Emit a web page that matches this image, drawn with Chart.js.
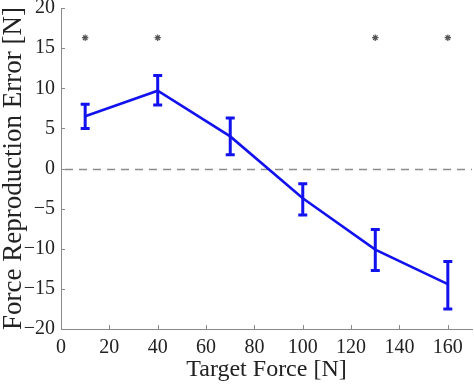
<!DOCTYPE html>
<html>
<head>
<meta charset="utf-8">
<script src="https://cdn.jsdelivr.net/npm/chart.js@4"></script>
<style>
html,body{margin:0;padding:0;background:#fff;}
#wrap{width:474px;height:386px;}
</style>
</head>
<body>
<div id="wrap"><canvas id="c" width="474" height="386"></canvas></div>
<script>
const targetForce = [10, 40, 70, 100, 130, 160];
const meanError   = [6.5, 9.7, 4.0, -3.7, -10.1, -14.4];
const errLow      = [5.0, 7.9, 1.7, -5.8, -12.7, -17.5];
const errHigh     = [8.0, 11.6, 6.3, -1.9, -7.6, -11.6];
const sigForces   = [10, 40, 130, 160];
const sigLevel    = [16.3, 16.3, 16.3, 16.3];
const xTicks = [0, 20, 40, 60, 80, 100, 120, 140, 160];
const yTicks = [-20, -15, -10, -5, 0, 5, 10, 15, 20];

const lineColor = '#1212ee';
const axisColor = '#8a8a8a';

const fmt = v => (v < 0 ? '\u2212' + Math.abs(v) : String(v));

const extras = {
  id: 'extras',
  beforeDatasetsDraw(chart) {
    const {ctx, chartArea, scales: {x, y}} = chart;
    ctx.save();
    ctx.strokeStyle = '#8c8c8c';
    ctx.lineWidth = 1.5;
    ctx.setLineDash([8, 6]);
    const y0 = Math.round(y.getPixelForValue(0)) + 0.5;
    ctx.beginPath();
    ctx.moveTo(chartArea.left + 4, y0);
    ctx.lineTo(chartArea.right, y0);
    ctx.stroke();
    ctx.setLineDash([]);
    ctx.strokeStyle = axisColor;
    ctx.lineWidth = 1;
    yTicks.forEach(v => {
      const py = Math.round(y.getPixelForValue(v)) + 0.5;
      ctx.beginPath();
      ctx.moveTo(chartArea.left, py);
      ctx.lineTo(chartArea.left + 4, py);
      ctx.stroke();
    });
    xTicks.forEach(v => {
      const px = Math.round(x.getPixelForValue(v)) + 0.5;
      ctx.beginPath();
      ctx.moveTo(px, chartArea.bottom);
      ctx.lineTo(px, chartArea.bottom - 4);
      ctx.stroke();
    });
    ctx.restore();
  },
  afterDatasetsDraw(chart) {
    const {ctx, scales: {x, y}} = chart;
    ctx.save();
    ctx.strokeStyle = lineColor;
    ctx.lineWidth = 3;
    targetForce.forEach((f, i) => {
      const px = x.getPixelForValue(f);
      const yl = y.getPixelForValue(errLow[i]);
      const yh = y.getPixelForValue(errHigh[i]);
      ctx.beginPath();
      ctx.moveTo(px, yl); ctx.lineTo(px, yh);
      ctx.moveTo(px - 4.5, yl); ctx.lineTo(px + 4.5, yl);
      ctx.moveTo(px - 4.5, yh); ctx.lineTo(px + 4.5, yh);
      ctx.stroke();
    });
    ctx.restore();
  }
};

new Chart(document.getElementById('c'), {
  type: 'line',
  data: {
    datasets: [
      {
        data: targetForce.map((f, i) => ({x: f, y: meanError[i]})),
        borderColor: lineColor,
        borderWidth: 2.6,
        pointRadius: 0,
        tension: 0,
        fill: false
      },
      {
        type: 'scatter',
        data: sigForces.map((f, i) => ({x: f, y: sigLevel[i]})),
        pointStyle: 'star',
        pointRadius: 3.2,
        borderColor: '#555',
        borderWidth: 1.2,
        backgroundColor: '#555',
        showLine: false
      }
    ]
  },
  plugins: [extras],
  options: {
    responsive: false,
    animation: false,
    events: [],
    layout: {autoPadding: false, padding: {top: 0, left: 0, bottom: 0, right: 2}},
    plugins: {legend: {display: false}, tooltip: {enabled: false}},
    scales: {
      x: {
        type: 'linear',
        min: 0, max: 170,
        afterBuildTicks: s => { s.ticks = xTicks.map(v => ({value: v})); },
        afterFit: s => { s.height = 57; s.paddingRight = 0; s.paddingLeft = 0; },
        grid: {display: true, drawOnChartArea: false, drawTicks: false},
        border: {display: true, color: axisColor, width: 1},
        ticks: {
          color: '#222', padding: 7,
          font: {family: 'Liberation Serif', size: 20},
          maxRotation: 0, autoSkip: false,
          callback: v => fmt(v)
        },
        title: {
          display: true, text: 'Target Force [N]', color: '#222',
          font: {family: 'Liberation Serif', size: 24, lineHeight: 1.2},
          padding: {top: 0, bottom: 2}
        }
      },
      y: {
        min: -20, max: 20,
        afterBuildTicks: s => { s.ticks = yTicks.map(v => ({value: v})); },
        afterFit: s => { s.width = 61; s.paddingTop = 8; s.paddingBottom = 0; },
        grid: {display: true, drawOnChartArea: false, drawTicks: false},
        border: {display: true, color: axisColor, width: 1},
        ticks: {
          color: '#222', padding: 6,
          font: {family: 'Liberation Serif', size: 20},
          autoSkip: false,
          callback: v => fmt(v)
        },
        title: {
          display: true, text: 'Force Reproduction Error [N]', color: '#222',
          font: {family: 'Liberation Serif', size: 27, lineHeight: 1},
          padding: {top: 0, bottom: 0}
        }
      }
    }
  }
});
</script>
</body>
</html>
